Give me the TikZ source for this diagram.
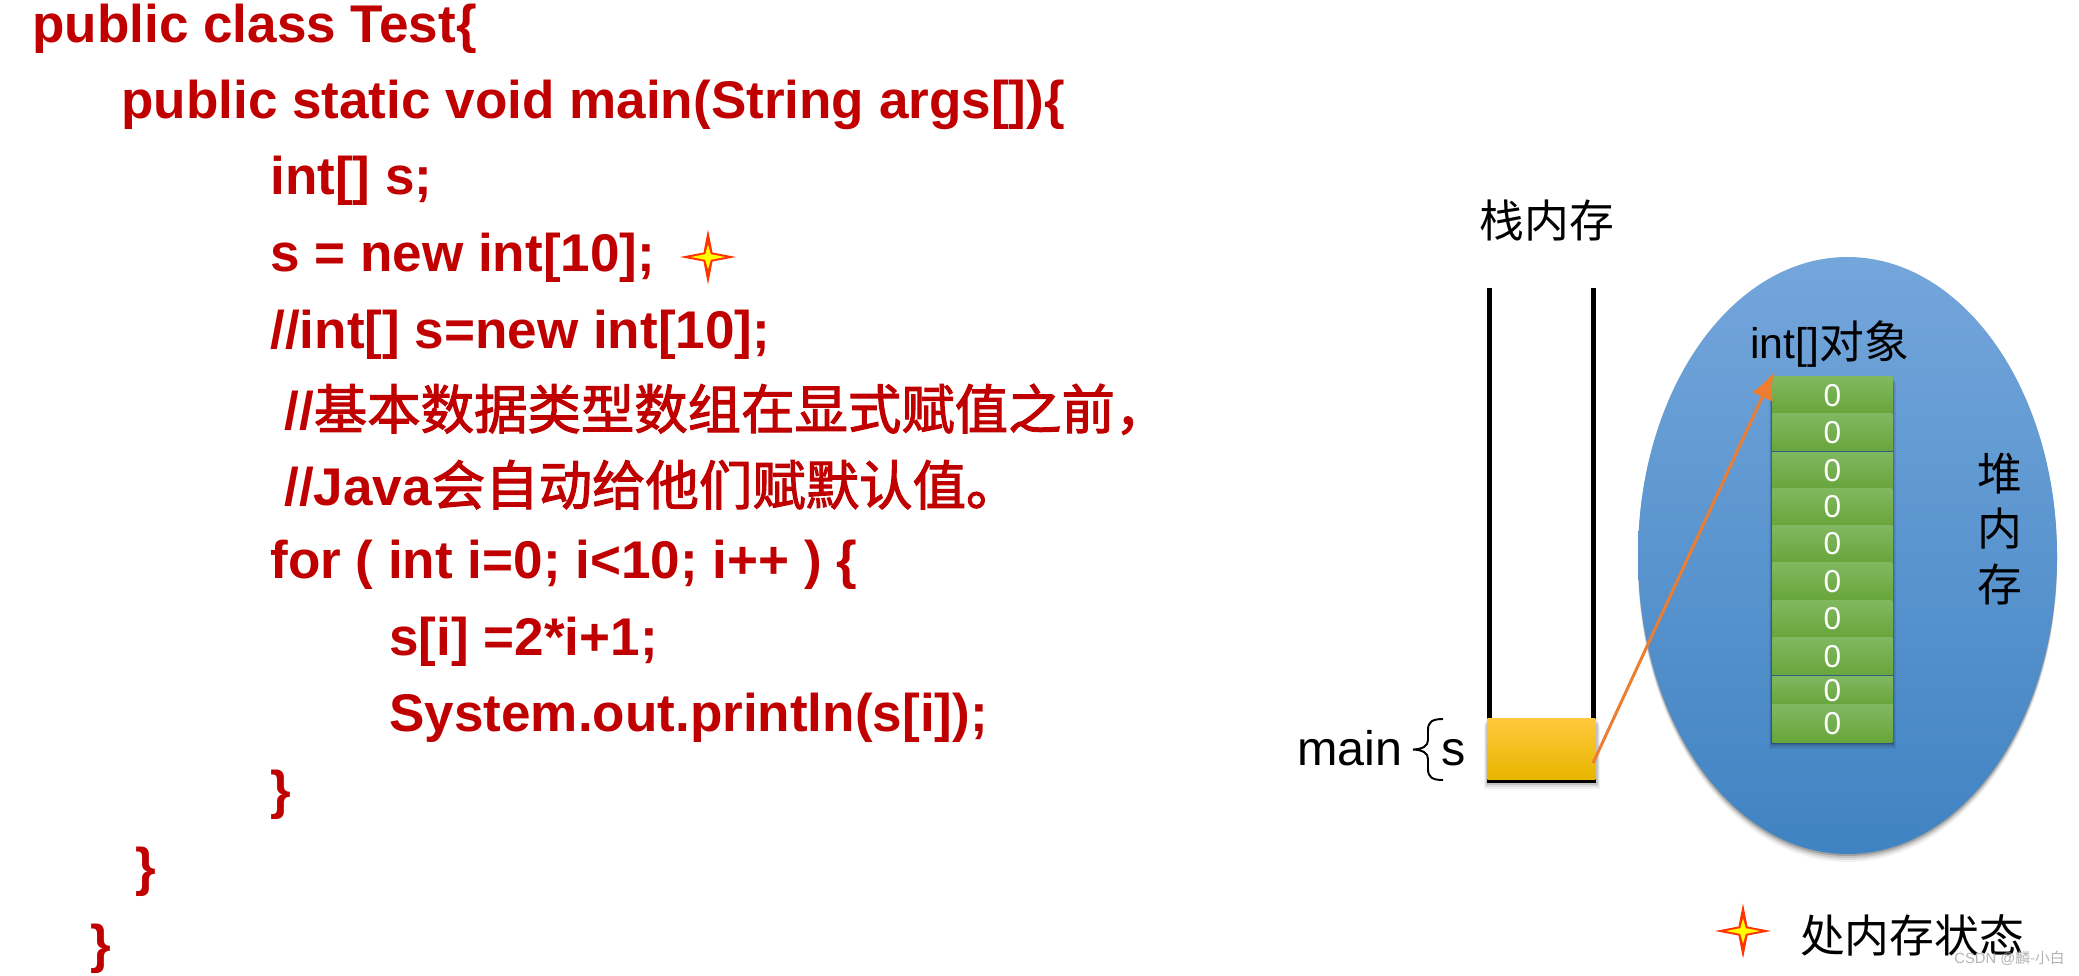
\documentclass[tikz,border=0pt]{standalone}
\usepackage{fontspec}
\setmainfont{Liberation Sans}
\newfontfamily\cjk{Noto Sans CJK SC}
\newfontfamily\cjkthick[FakeBold=2]{Noto Sans CJK SC}
\usetikzlibrary{shapes.geometric,arrows.meta}
\definecolor{codered}{HTML}{C00000}
\definecolor{arrowor}{HTML}{ED7D31}
\definecolor{starred}{HTML}{FF3300}
\definecolor{staryel}{HTML}{FFFF00}
\definecolor{cellt}{HTML}{80B861}
\definecolor{cellb}{HTML}{68A53B}
\definecolor{heapt}{HTML}{74A6DB}
\definecolor{heapm}{HTML}{5599DC}
\definecolor{heapb}{HTML}{4083C2}
\definecolor{framet}{HTML}{FFC83D}
\definecolor{framem}{HTML}{FFC800}
\definecolor{frameb}{HTML}{E8B600}
\newcommand{\codefont}{\fontsize{30.2pt}{34pt}\selectfont\bfseries}
\newcommand{\cjkcode}[1]{{\cjkthick\mdseries\fontsize{30.4pt}{34pt}\selectfont #1}}
\newcommand{\cjkbig}[1]{{\cjk\fontsize{25.5pt}{30pt}\selectfont #1}}
\tikzset{
  x=0.02cm,y=-0.02cm,
  code/.style={anchor=base west,inner sep=0pt,text=codered,font=\codefont},
  lab/.style={anchor=center,inner sep=0pt,text=black,font=\fontsize{24pt}{28pt}\selectfont},
  labbase/.style={anchor=base west,inner sep=0pt,text=black,font=\fontsize{27.6pt}{32pt}\selectfont},
  cell/.style={rectangle,inner sep=0pt,anchor=north west,minimum width={120*0.02cm},
    minimum height={#1*0.02cm},top color=cellt,bottom color=cellb,
    text=white,font=\fontsize{18pt}{20pt}\selectfont},
  wall/.style={line width=2.8pt,draw=black},
  fourstar/.pic={
    \fill[starred] (0,-27.5) -- (4.5,-4.5) -- (28,0) -- (4.5,4.5) -- (0,27.5)
      -- (-4.5,4.5) -- (-28,0) -- (-4.5,-4.5) -- cycle;
    \fill[staryel] (0,-12.5) -- (2.8,-2.8) -- (17,0) -- (2.8,2.8) -- (0,12.5)
      -- (-2.8,2.8) -- (-17,0) -- (-2.8,-2.8) -- cycle;
  }
}
\begin{document}
\begin{tikzpicture}
\useasboundingbox (0,0) rectangle (2079,975);
% code
\node[code] (l1) at (32,42.5) {public class Test\{};
\node[code] (l2) at (121,118) {public static void main(String args[])\{};
\node[code] (l3) at (270,194.5) {int[] s;};
\node[code] (l4) at (270,271) {s = new int[10];};
\node[code] (l5) at (270,348) {//int[] s=new int[10];};
\node[code] (l6) at (284,429) {//\cjkcode{基本数据类型数组在显式赋值之前，}};
\node[code] (l7) at (284,505) {//Java\cjkcode{会自动给他们赋默认值。}};
\node[code] (l8) at (270,578) {for ( int i=0; i<10; i++ ) \{};
\node[code] (l9) at (389,655) {s[i] =2*i+1;};
\node[code] (l10) at (389,731) {System.out.println(s[i]);};
\node[code] (l11) at (270,808) {\}};
\node[code] (l12) at (135,885) {\}};
\node[code] (l13) at (90,962) {\}};
\pic at (708,257) {fourstar};
% stack
\node[lab] (stacklabel) at (1547,221) {\cjkbig{栈内存}};
\coordinate (wl1) at (1489.5,288);
\coordinate (wl2) at (1489.5,780.5);
\coordinate (wr1) at (1593.5,288);
\coordinate (wr2) at (1593.5,780.5);
\foreach \d/\o in {7/0.05,5/0.08,3/0.12}
  \fill[black,opacity=\o] (1487-\d/2,718+\d) rectangle (1596+\d/2,782+\d);
\draw[wall] (wl1) -- (wl2) -- (wr2) -- (wr1);
\node[rectangle,inner sep=0pt,anchor=north west,minimum width={108*0.02cm},minimum height={61*0.02cm},
  top color=framet,middle color=framem,bottom color=frameb] (frame) at (1487,718) {};
\node[labbase] (mainlabel) at (1297,765) {main};
\node[labbase] (slabel) at (1441,765) {s};
\coordinate (bt) at (1443,719);
\coordinate (bb) at (1443,780);
\draw[line width=1.1pt,black] (bt) .. controls (1432,719) and (1428,722) .. (1428,730)
  -- (1428,740) .. controls (1428,746) and (1423,749) .. (1413,749.5)
  .. controls (1423,750) and (1428,753) .. (1428,759)
  -- (1428,769) .. controls (1428,777) and (1432,780) .. (bb);
% heap
\foreach \d/\o in {8/0.05,6/0.08,4/0.12,2/0.18}
  \fill[black,opacity=\o] (1847.5,555.5+\d) ellipse [x radius=209.5,y radius=298.5];
\node[ellipse,inner sep=0pt,minimum width={419*0.02cm},minimum height={597*0.02cm},
  top color=heapt,middle color=heapm,bottom color=heapb] (heap) at (1847.5,555.5) {};
\node[lab] (heap1) at (2000,474) {\cjkbig{堆}};
\node[lab] (heap2) at (2000,529) {\cjkbig{内}};
\node[lab] (heap3) at (2000,584) {\cjkbig{存}};
\node[anchor=base west,inner sep=0pt,text=black,font=\fontsize{24.4pt}{28pt}\selectfont] (objlabel) at (1750,358) {int[]\cjkbig{对象}};
% array shadow
\foreach \d/\o in {7/0.06,5/0.09,3/0.13,1.5/0.18}
  \fill[black,opacity=\o] (1772-\d/2,376+\d) rectangle (1892+\d/2,742+\d);
\node[cell=37.5] (c1) at (1772,376) {0};
\node[cell=37.5] (c2) at (1772,413.5) {0};
\node[cell=37.5] (c3) at (1772,451) {0};
\node[cell=37] (c4) at (1772,488) {0};
\node[cell=37] (c5) at (1772,525) {0};
\node[cell=38] (c6) at (1772,562) {0};
\node[cell=37] (c7) at (1772,600) {0};
\node[cell=38] (c8) at (1772,637) {0};
\node[cell=30] (c9) at (1772,675) {\raisebox{-2pt}{0}};
\node[cell=37.5] (c10) at (1772,704.5) {0};
\draw[line width=0.5pt,heapb!70!black] (c2.south west) -- (c2.south east);
\draw[line width=0.5pt,heapb!70!black] (c8.south west) -- (c8.south east);
% pointer
\coordinate (ptrstart) at (1593,763);
\coordinate (ptrend) at (c1.north west);
\draw[arrowor,line width=1.7pt,-{Latex[length=15pt,width=13pt]},shorten >=-2pt] (ptrstart) -- (ptrend);
% legend
\pic at (1743,931) {fourstar};
\node[lab] (legend) at (1912,935) {\cjkbig{处内存状态}};
\node[anchor=east,inner sep=0pt,text=gray!70,opacity=0.85,font=\fontsize{8.4pt}{10pt}\selectfont] (mark) at (2065,958) {CSDN @{\cjk 麟-小白}};
\end{tikzpicture}
\end{document}
